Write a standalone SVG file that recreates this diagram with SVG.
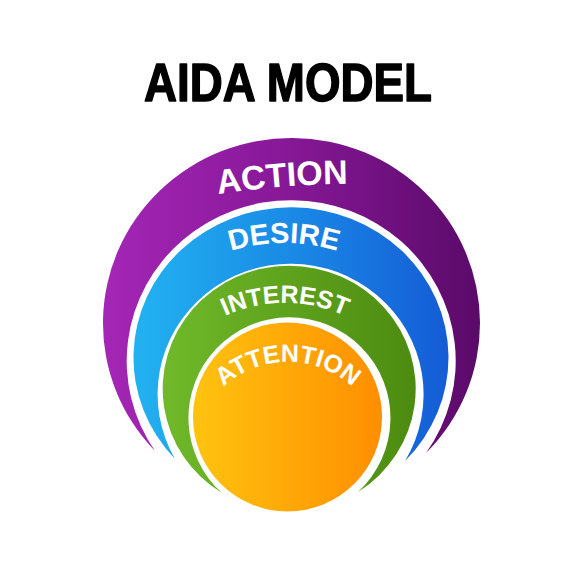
<svg xmlns="http://www.w3.org/2000/svg" width="576" height="576" viewBox="0 0 576 576">
  <defs>
    <linearGradient id="gPurple" x1="0" y1="0" x2="1" y2="0">
      <stop offset="0" stop-color="#a426b6"/>
      <stop offset="0.5" stop-color="#861896"/>
      <stop offset="1" stop-color="#5a0a69"/>
    </linearGradient>
    <linearGradient id="gBlue" x1="0" y1="0" x2="1" y2="0">
      <stop offset="0" stop-color="#22b2f0"/>
      <stop offset="0.5" stop-color="#1a8ae6"/>
      <stop offset="1" stop-color="#155cd6"/>
    </linearGradient>
    <linearGradient id="gGreen" x1="0" y1="0" x2="1" y2="0">
      <stop offset="0" stop-color="#70b92a"/>
      <stop offset="1" stop-color="#4c8b10"/>
    </linearGradient>
    <linearGradient id="gOrange" x1="0" y1="0" x2="1" y2="0">
      <stop offset="0" stop-color="#ffc30f"/>
      <stop offset="1" stop-color="#ff8e00"/>
    </linearGradient>
    <path id="pAction" d="M200,197 A900,900 0 0 1 366,184"/>
    <path id="pDesire" d="M174,280.3 A181,181 0 0 1 394,280.3"/>
    <path id="pInterest" d="M175,353 A146,146 0 0 1 395,353"/>
    <path id="pAttention" d="M198,424.6 A96,96 0 0 1 378,424.6"/>
  </defs>
  <style>
    .title { font-family: "Liberation Sans", "DejaVu Sans", sans-serif; font-weight: bold; fill: #000; stroke: #000; stroke-width: 1.5; stroke-linejoin: round; }
    .lbl { font-family: "Liberation Sans", "DejaVu Sans", sans-serif; font-weight: bold; fill: #fff; }
  </style>
  <rect width="576" height="576" fill="#fff"/>

  <g id="title">
    <text class="title" x="288" y="101" font-size="54" text-anchor="middle" textLength="288" lengthAdjust="spacingAndGlyphs">AIDA MODEL</text>
  </g>

  <g id="action">
    <path d="M155,451 A188.5,185.3 0 1 1 426,453 A164.5,160.7 0 1 0 155,451 Z" fill="url(#gPurple)"/>
    <text class="lbl" font-size="34"><textPath href="#pAction" startOffset="50%" text-anchor="middle">ACTION</textPath></text>
  </g>

  <g id="desire">
    <path d="M175,459 A157.5,150.1 0 1 1 405,461 A133,130.6 0 1 0 175,459 Z" fill="url(#gBlue)"/>
    <text class="lbl" font-size="29"><textPath href="#pDesire" startOffset="50%" text-anchor="middle">DESIRE</textPath></text>
  </g>

  <g id="interest">
    <path d="M222,493 A126.5,123 0 1 1 358,492 A101,100.7 0 1 0 222,493 Z" fill="url(#gGreen)"/>
    <text class="lbl" font-size="25"><textPath href="#pInterest" startOffset="50%" text-anchor="middle">INTEREST</textPath></text>
  </g>

  <g id="attention">
    <circle cx="287.5" cy="417" r="94.5" fill="url(#gOrange)"/>
    <text class="lbl" font-size="25"><textPath href="#pAttention" startOffset="50%" text-anchor="middle">ATTENTION</textPath></text>
  </g>

  <g id="connectors"/>
</svg>
